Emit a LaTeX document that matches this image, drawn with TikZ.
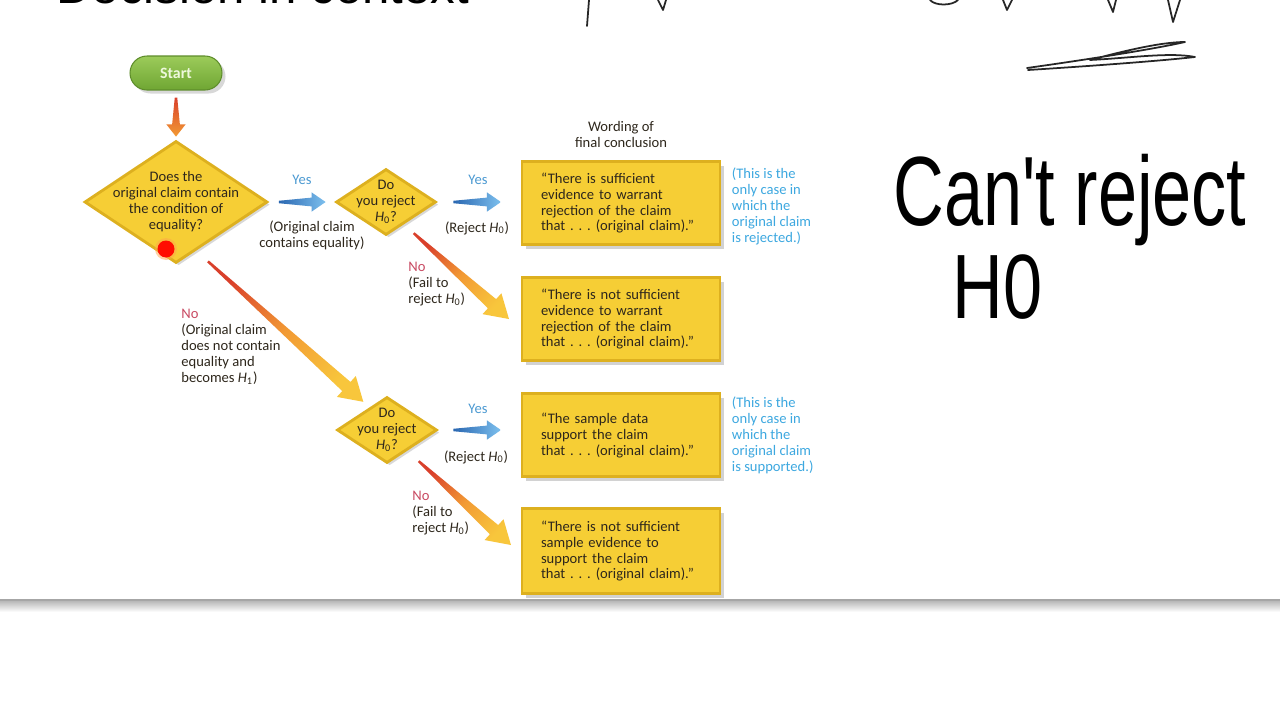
\documentclass[tikz,border=0pt]{standalone}
\usepackage{fontspec}
\setmainfont{Carlito}
\newfontfamily\titlefont{Liberation Sans}
\usetikzlibrary{shapes.geometric,
                calc,
                shadows,
                positioning}

\definecolor{flowyellow}{HTML}{F6CE35}
\definecolor{flowedge}{HTML}{DDB01F}
\definecolor{startgreen}{HTML}{6FA633}
\definecolor{startlight}{HTML}{9CCB5A}
\definecolor{startwhite}{HTML}{EEF8DC}
\definecolor{noteblue}{HTML}{3DA8E0}
\definecolor{yesblue}{HTML}{4C9AD2}
\definecolor{nored}{HTML}{C94A62}
\definecolor{inkbrown}{HTML}{2E271C}
\definecolor{arrowred}{HTML}{D9402B}
\definecolor{arroworange}{HTML}{F29A34}
\definecolor{arrowyellow}{HTML}{F8C63C}
\definecolor{bluedark}{HTML}{2A67B1}
\definecolor{bluelight}{HTML}{7DC0EE}

% tapered arrow: shading, tail, tip, head length, head half width, shaft half width
\newcommand{\fatarrow}[6]{%
  \path (#2) coordinate (fa-t) (#3) coordinate (fa-b);
  \path ($(fa-b)!#4!(fa-t)$) coordinate (fa-h);
  \shade[#1] ($(fa-t)!0.7pt!90:(fa-b)$)
    -- ($(fa-h)!#6!-90:(fa-t)$)
    -- ($(fa-h)!#5!-90:(fa-t)$)
    -- (fa-b)
    -- ($(fa-h)!#5!90:(fa-t)$)
    -- ($(fa-h)!#6!90:(fa-t)$)
    -- ($(fa-t)!0.7pt!-90:(fa-b)$) -- cycle;}

\begin{document}
\frenchspacing
\begin{tikzpicture}[x=0.02cm, y=-0.02cm,
    flowtext/.style={font=\fontsize{8.3}{9.1}\selectfont, text=inkbrown, align=center, inner sep=0pt},
    decision/.style={diamond, fill=flowyellow, draw=flowedge, line width=1.6pt, inner sep=0pt,
                     drop shadow={opacity=0.3, shadow xshift=1.5pt, shadow yshift=-1.5pt}},
    conclusion/.style={rectangle, fill=flowyellow, draw=flowedge, line width=1.2pt,
                       minimum width=3.96cm, minimum height=1.66cm, text width=3.2cm, align=left,
                       inner sep=0pt, font=\fontsize{8.3}{9.1}\selectfont, text=inkbrown,
                       drop shadow={opacity=0.35, shadow xshift=2.5pt, shadow yshift=-2.5pt}},
    startpill/.style={rectangle, rounded corners=0.34cm, minimum width=1.84cm, minimum height=0.68cm,
                      top color=startlight, bottom color=startgreen, draw=startgreen!85!black,
                      line width=0.6pt, text=startwhite, font=\bfseries\fontsize{9}{10}\selectfont,
                      drop shadow={opacity=0.3, shadow xshift=2pt, shadow yshift=-2pt}},
    yeslabel/.style={flowtext, text=yesblue},
    notelabel/.style={flowtext, text=noteblue, align=left},
    nolabel/.style={flowtext, align=left},
    blueshade/.style={left color=bluedark, right color=bluelight},
    downshade/.style={top color=arrowred, bottom color=arroworange},
    noshade/.style={top color=arrowred, bottom color=arrowyellow, middle color=arroworange, shading angle=45},
    hand/.style={line width=1pt, black!85, line cap=round, line join=round}]

    \fill[white] (0,0) rectangle (1280,720);
    \useasboundingbox (0,0) rectangle (1280,720);

    % cut-off title and handwriting at the top edge
    \begin{scope}
        \clip (0,0) rectangle (1280,720);
        \node[anchor=base west, inner sep=0pt, font=\titlefont\fontsize{28}{30}\selectfont] (title) at (56,4) {Decision in context};
        \draw[hand] (589,0) -- (587,26);
        \draw[hand] (658,0) -- (663,10) -- (666,0);
        \draw[hand] (930,0) .. controls (935,6) and (952,6) .. (958,0);
        \draw[hand] (1003,0) -- (1007,10) -- (1012,0);
        \draw[hand] (1108,0) -- (1113,12) -- (1116,0);
        \draw[hand] (1168,0) -- (1173,22) -- (1180,0);
    \end{scope}

    % flowchart
    \node[startpill] (start) at (176,73) {Start};
    \node[decision, minimum width=3.66cm, minimum height=2.44cm,
          label={[flowtext]center:Does the\\original claim contain\\the condition of\\equality?}] (d1) at (176,202) {};
    \node[decision, minimum width=2.0cm, minimum height=1.32cm,
          label={[flowtext]center:Do\\you reject\\\textit{H}\textsubscript{0}?}] (d2) at (386,202) {};
    \node[decision, minimum width=2.0cm, minimum height=1.32cm,
          label={[flowtext]center:Do\\you reject\\\textit{H}\textsubscript{0}?}] (d3) at (387,430) {};

    \node[conclusion] (b1) at (621,203) {``There is sufficient\\evidence to warrant\\rejection of the claim\\that . . . (original claim).''};
    \node[conclusion] (b2) at (621,319) {``There is not sufficient\\evidence to warrant\\rejection of the claim\\that . . . (original claim).''};
    \node[conclusion] (b3) at (621,435) {``The sample data\\support the claim\\that . . . (original claim).''};
    \node[conclusion, minimum height=1.7cm] (b4) at (621,551) {``There is not sufficient\\sample evidence to\\support the claim\\that . . . (original claim).''};

    \node[flowtext, above=7pt of b1] (wording) {Wording of\\final conclusion};
    \node[notelabel, right=6pt of b1, yshift=-2pt] (note1) {(This is the\\only case in\\which the\\original claim\\is rejected.)};
    \node[notelabel, right=6pt of b3] (note2) {(This is the\\only case in\\which the\\original claim\\is supported.)};

    % connectors
    \fatarrow{downshade}{$(start.south)+(0,7)$}{$(d1.north)+(0,-3)$}{7pt}{5.5pt}{2.2pt}
    \fatarrow{blueshade}{$(d1.east)+(10,0)$}{$(d2.west)+(-9,0)$}{8pt}{5.5pt}{2.5pt}
    \fatarrow{blueshade}{$(d2.east)+(16,0)$}{$(b1.west |- d2.east)+(-20,0)$}{8pt}{5.5pt}{2.5pt}
    \fatarrow{blueshade}{$(d3.east)+(15,0)$}{$(b3.west |- d3.east)+(-20,0)$}{8pt}{5.5pt}{2.5pt}
    \fatarrow{noshade}{$(d1.south)+(32,-3)$}{$(d3.north west)+(2,-11)$}{13pt}{8pt}{3.5pt}
    \fatarrow{noshade}{$(d2.south east)+(2,14)$}{$(b2.west)+(-12,0)$}{13pt}{8pt}{3.5pt}
    \fatarrow{noshade}{$(d3.south east)+(6,14)$}{$(b4.west)+(-10,-6)$}{13pt}{8pt}{3.5pt}

    % arrow labels
    \node[yeslabel] (yes1) at (302,180) {Yes};
    \node[flowtext] (equal) at (312,235) {(Original claim\\contains equality)};
    \node[yeslabel] (yes2) at (478,180) {Yes};
    \node[flowtext] (rej1) at (477,228) {(Reject \textit{H}\textsubscript{0})};
    \node[yeslabel] (yes3) at (478,409) {Yes};
    \node[flowtext] (rej2) at (476,457) {(Reject \textit{H}\textsubscript{0})};
    \node[nolabel, anchor=west] (no1) at (181,347) {{\color{nored}No}\\(Original claim\\does not contain\\equality and\\becomes \textit{H}\textsubscript{1})};
    \node[nolabel, anchor=west] (no2) at (408,284) {{\color{nored}No}\\(Fail to\\reject \textit{H}\textsubscript{0})};
    \node[nolabel, anchor=west] (no3) at (412,513) {{\color{nored}No}\\(Fail to\\reject \textit{H}\textsubscript{0})};

    % pointer dot
    \fill[orange!70, opacity=0.5] (166,249) circle[radius=0.22cm];
    \fill[red!90!orange] (166,249) circle[radius=0.17cm];

    % slide edge
    \shade[top color=gray!60, bottom color=white] (0,600) rectangle (1280,612);
    \draw[gray!70, line width=0.8pt] (0,600) -- (1280,600);

    % handwritten note
    \draw[hand] (1027,68) .. controls (1070,62) and (1150,50) .. (1185,42)
                .. controls (1160,42) and (1120,52) .. (1090,60)
                .. controls (1130,58) and (1170,52) .. (1195,57)
                .. controls (1150,62) and (1060,68) .. (1028,70);
    \node[anchor=base west, inner sep=0pt, font=\titlefont\fontsize{40}{48}\selectfont] (cant) at (893,225) {\scalebox{1}[1.4]{Can't reject}};
    \node[anchor=base west, inner sep=0pt, font=\titlefont\fontsize{40}{48}\selectfont] (hzero) at (952,318) {\scalebox{1}[1.3]{H0}};
\end{tikzpicture}
\end{document}
